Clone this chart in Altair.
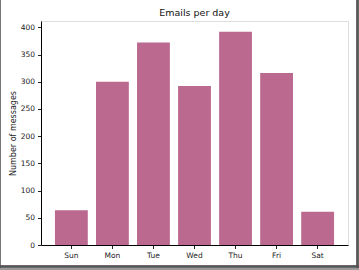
import altair as alt
import pandas as pd

days = ["Sun", "Mon", "Tue", "Wed", "Thu", "Fri", "Sat"]
counts = [64, 300, 372, 292, 392, 316, 61]
title_text = "Emails per day"

df = pd.DataFrame({"day": days, "count": counts})

FONT = "DejaVu Sans"

bars = alt.Chart(df).mark_bar(color="#bc6990", opacity=1).encode(
    x=alt.X("day:N", sort=days,
            scale=alt.Scale(paddingInner=0.2, paddingOuter=0.34),
            axis=alt.Axis(title=None, labelAngle=0, labelFontSize=7.5, labelFont=FONT,
                          labelColor="#222", tickColor="#222", domainColor="#000",
                          tickSize=3.5, labelPadding=3, domainWidth=1)),
    y=alt.Y("count:Q", scale=alt.Scale(domain=[0, 411.6], nice=False),
            axis=alt.Axis(title="Number of messages", values=list(range(0, 401, 50)),
                          grid=False, labelFontSize=7.5, labelFont=FONT, labelColor="#222",
                          tickColor="#222", domainColor="#000", tickSize=3.5, labelPadding=3,
                          titleFont=FONT, titleFontSize=8, titleFontWeight="normal",
                          titleColor="#222", titlePadding=3)),
)

title = alt.Chart(pd.DataFrame({"t": [title_text]})).mark_text(
    font=FONT, fontSize=9.5, color="#111", baseline="alphabetic", align="center"
).encode(x=alt.value(153.5), y=alt.value(-5), text="t:N")

frame_right = alt.Chart(df).mark_rule(color="#555", strokeWidth=1.5).encode(
    x=alt.value(316.5), y=alt.value(-21), y2=alt.value(247))
frame_left = alt.Chart(df).mark_rule(color="#777", strokeWidth=1).encode(
    x=alt.value(-40.5), y=alt.value(-21), y2=alt.value(247))
frame_bottom = alt.Chart(df).mark_rule(color="#555", strokeWidth=1.5).encode(
    x=alt.value(-41), x2=alt.value(318), y=alt.value(245.5))
frame_bottom2 = alt.Chart(df).mark_rule(color="#999", strokeWidth=1).encode(
    x=alt.value(-41), x2=alt.value(318), y=alt.value(248))

chart = alt.layer(bars, title, frame_right, frame_left, frame_bottom, frame_bottom2).properties(
    width=307, height=224,
    autosize=alt.AutoSizeParams(type="none"),
    padding={"left": 41, "top": 21, "right": 11, "bottom": 25},
).configure_view(stroke="#888", strokeWidth=1).configure(background="white")

chart.save("out.html", embed_options={"renderer": "svg", "actions": False})
